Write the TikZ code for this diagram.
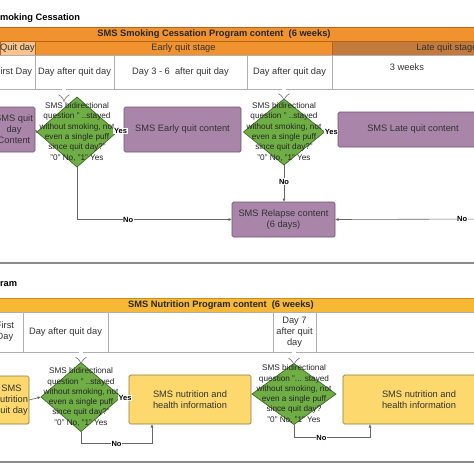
\documentclass[tikz,border=0pt]{standalone}
\usepackage{fontspec}
\setmainfont{Liberation Sans}
\usepackage{xcolor}
\usetikzlibrary{shapes.geometric,arrows.meta}

\definecolor{smokeband}{HTML}{F0922E}
\definecolor{smokeedge}{HTML}{B86418}
\definecolor{quitcell}{HTML}{F6C48C}
\definecolor{latecell}{HTML}{C27B3D}
\definecolor{nutband}{HTML}{F7B835}
\definecolor{nutedge}{HTML}{C98E1E}
\definecolor{mauve}{HTML}{A985A9}
\definecolor{mauveedge}{HTML}{6E526E}
\definecolor{leaf}{HTML}{6FAE45}
\definecolor{leafedge}{HTML}{3E6A28}
\definecolor{straw}{HTML}{FDD86C}
\definecolor{strawedge}{HTML}{8E7A3C}
\definecolor{rule}{HTML}{8C8C8C}
\definecolor{ink}{HTML}{333333}

\begin{document}
\begin{tikzpicture}[x=1pt, y=-1pt,
  every node/.style={font=\fontsize{9.3}{11}\selectfont, text=ink, inner sep=0pt, outer sep=0pt},
  boxsize/.style 2 args={minimum width=#1pt, minimum height=#2pt},
  cell/.style={rectangle, draw=rule!70, line width=0.6pt, fill=white, anchor=north west, align=center},
  stage/.style={cell, draw=smokeedge, fill=smokeband},
  band/.style={stage, font=\bfseries\fontsize{9.3}{11}\selectfont, text=black!85},
  content/.style={rectangle, rounded corners=1.5pt, line width=0.7pt, anchor=north west, align=center},
  smsbox/.style={content, draw=mauveedge, fill=mauve},
  nutbox/.style={content, draw=strawedge, fill=straw},
  question/.style={diamond, draw=leafedge, fill=leaf, line width=0.7pt},
  qtext/.style={align=center, text=black!85, font=\fontsize{8.2}{10.3}\selectfont},
  flow/.style={draw=black!60, line width=0.6pt, -{Latex[length=3.5pt, width=3pt]}},
  answer/.style={font=\bfseries\fontsize{7.5}{8}\selectfont, text=black, fill=white, inner sep=0.6pt},
  hollow/.style={draw=black!55, line width=0.6pt, double=white, double distance=3.4pt, -{Implies}},
  title/.style={anchor=west, font=\bfseries\fontsize{9.3}{11}\selectfont, text=black},
  divider/.style={draw=rule, line width=1.4pt}]
  \useasboundingbox (0,0) rectangle (474,474);
  \clip (0,0) rectangle (474,474);

  \node[title] (SmokeTitle) at (0,18) {moking Cessation};
  \node[band, boxsize={520}{14}] (SmokeBand) at (-46,27) {SMS Smoking Cessation Program content\ \ (6 weeks)};
  \node[stage, boxsize={35}{14}, fill=quitcell] (QuitStage) at (0,41) {Quit day};
  \node[stage, boxsize={297}{14}] (EarlyStage) at (35,41) {Early quit stage};
  \node[stage, boxsize={230}{14}, fill=latecell] (LateStage) at (332,41) {Late quit stage};
  \node[cell, boxsize={43}{34}] (FirstDay) at (-8,55) {First Day};
  \node[cell, boxsize={79}{34}] (DayAfterA) at (35,55) {Day after quit day};
  \node[cell, boxsize={133}{34}] (DayThreeSix) at (114,55) {Day 3 - 6\ \ after quit day};
  \node[cell, boxsize={85}{34}] (DayAfterB) at (247,55) {Day after quit day};
  \node[cell, boxsize={150}{34}, text depth=10pt] (ThreeWeeks) at (332,55) {3 weeks};

  \node[smsbox, boxsize={42}{45}] (QuitContent) at (-7,107) {SMS quit\\day\\Content};
  \node[question, boxsize={80}{70}] (AskA) at (77,132) {};
  \node[qtext] (AskAText) at (AskA) {SMS bidirectional\\question " ..stayed\\without smoking, not\\even a single puff\\since quit day?"\\"0" No, "1" Yes};
  \node[smsbox, boxsize={117}{45}] (EarlyContent) at (124,107) {SMS Early quit content};
  \node[question, boxsize={81}{66}] (AskB) at (284,132) {};
  \node[qtext] (AskBText) at (AskB) {SMS bidirectional\\question " ..stayed\\without smoking, not\\even a single puff\\since quit day?"\\"0" No, "1" Yes};
  \node[smsbox, boxsize={150}{35}] (LateContent) at (338,112) {SMS Late quit content};
  \node[smsbox, boxsize={103}{35}] (Relapse) at (232,202) {SMS Relapse content\\(6 days)};
  \coordinate (LateNo) at (490,219);

  \draw[flow] (AskA.west) -- (QuitContent.east);
  \draw[flow] (AskA.east) -- node[answer]{Yes} (EarlyContent.west);
  \draw[flow] (AskB.east) -- node[answer]{Yes} (AskB.east -| LateContent.west);
  \draw[flow] (AskB.south) -- node[answer, pos=0.45]{No} (AskB.south |- Relapse.north);
  \draw[flow] (AskA.south) |- node[answer, pos=0.665]{No} (Relapse.west);
  \draw[flow] (LateNo) -- node[answer, pos=0.18]{No} (Relapse.east);
  \draw[hollow] ([xshift=-13pt]AskA.north |- DayAfterA.south) -- ([xshift=-13pt, yshift=-5pt]AskA.north);
  \draw[hollow] (AskB.north |- DayAfterB.south) -- ([yshift=-2pt]AskB.north);

  \draw[divider] (-10,263) -- (490,263);

  \node[title] (NutTitle) at (0,284) {ram};
  \node[band, boxsize={506}{14}, draw=nutedge, fill=nutband] (NutBand) at (-32,298) {SMS Nutrition Program content\ \ (6 weeks)};
  \node[cell, boxsize={36}{40}] (FirstDayB) at (-13,312) {First\\Day};
  \node[cell, boxsize={85}{40}] (DayAfterC) at (23,312) {Day after quit day};
  \node[cell, boxsize={165}{40}] (BlankA) at (108,312) {};
  \node[cell, boxsize={43}{40}] (DaySeven) at (273,312) {Day 7\\after quit\\day};
  \node[cell, boxsize={170}{40}] (BlankB) at (316,312) {};

  \node[nutbox, boxsize={35}{48}] (NutQuit) at (-6,376) {SMS\\nutrition\\quit day};
  \node[question, boxsize={80}{69}] (AskC) at (81,397) {};
  \node[qtext] (AskCText) at (AskC) {SMS bidirectional\\question " ..stayed\\without smoking, not\\even a single puff\\since quit day?"\\"0" No, "1" Yes};
  \node[nutbox, boxsize={122}{49}] (NutInfoA) at (129,375) {SMS nutrition and\\health information};
  \node[question, boxsize={84}{61}] (AskD) at (294,394) {};
  \node[qtext] (AskDText) at (AskD) {SMS bidirectional\\question "... stayed\\without smoking, not\\even a single puff\\since quit day?\\"0" No, "1" Yes};
  \node[nutbox, boxsize={152}{49}] (NutInfoB) at (343,375) {SMS nutrition and\\health information};

  \draw[flow] (NutQuit.east) -- (AskC.west);
  \draw[flow] (AskC.east) -- node[answer]{Yes} (NutInfoA.west);
  \draw[flow] (AskC.south) -- ++(0,12) -| node[answer, pos=0.25]{No} ([xshift=-38pt]NutInfoA.south);
  \draw[flow] (AskD.south) -- ++(0,13) -| node[answer, pos=0.18]{No} ([xshift=-49pt]NutInfoB.south);
  \draw[hollow] (AskC.north |- DayAfterC.south) -- ([yshift=-2pt]AskC.north);
  \draw[hollow] (AskD.north |- DaySeven.south) -- ([yshift=-2pt]AskD.north);

  \draw[divider] (-10,462) -- (490,462);
\end{tikzpicture}
\end{document}
